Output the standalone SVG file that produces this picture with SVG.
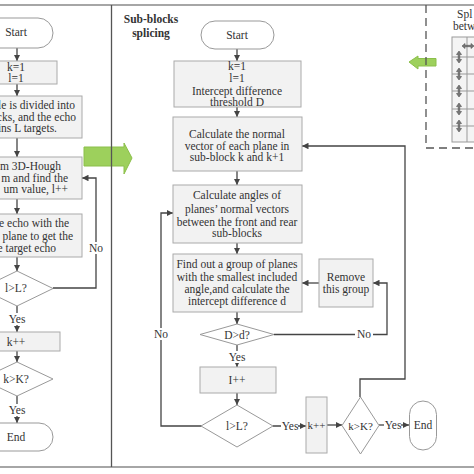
<svg xmlns="http://www.w3.org/2000/svg" width="474" height="474" viewBox="0 0 474 474">
<defs>
<marker id="ah" viewBox="0 0 8 8" refX="8" refY="4" markerWidth="6.5" markerHeight="6.5" markerUnits="userSpaceOnUse" orient="auto">
<path d="M0,0 L8,4 L0,8 Z" fill="#444"/>
</marker>
<style>
text{font-family:"Liberation Serif","Times New Roman",serif;font-size:11.5px;fill:#333;text-anchor:middle}
.e{text-anchor:end}
.b{fill:#f2f2f2;stroke:#aaa;stroke-width:1}
.t{fill:#fff;stroke:#999;stroke-width:1}
.c{fill:none;stroke:#444;stroke-width:1.3}
.ca{fill:none;stroke:#444;stroke-width:1.3;marker-end:url(#ah)}
.lb{fill:#fff}
.frame{stroke:#888;stroke-width:1.6;fill:none}
.g{fill:#9dd05c;stroke:#8bbf4a;stroke-width:1}
.sym{fill:#777;stroke:#555;stroke-width:0.6}
.title{font-weight:bold;font-size:11.5px}
</style>
</defs>
<rect width="474" height="474" fill="#fff"/>

<!-- green arrows -->
<polygon id="bigArrow" class="g" points="84,147 124,147 124,143 132,158 124,174 124,166 84,166"/>
<polygon id="smallArrow" class="g" points="409,62 418,56 418,58.5 436,58.5 436,66 418,66 418,69"/>

<!-- frame -->
<g id="frame">
<line class="frame" x1="0" y1="5" x2="474" y2="5"/>
<line class="frame" x1="0" y1="467" x2="474" y2="467"/>
<line x1="111.5" y1="5" x2="111.5" y2="467" stroke="#555" stroke-width="1.3"/>
<path d="M426,5 V148 H474" fill="none" stroke="#555" stroke-width="1.3" stroke-dasharray="8,5"/>
</g>

<!-- connectors -->
<g id="connectors">
<!-- left column -->
<line class="ca" x1="17" y1="48" x2="17" y2="61"/>
<line class="ca" x1="17" y1="84" x2="17" y2="96"/>
<line class="ca" x1="17" y1="138" x2="17" y2="157"/>
<line class="ca" x1="17" y1="199" x2="17" y2="214"/>
<line class="ca" x1="17" y1="257" x2="17" y2="271"/>
<path class="ca" d="M53,288 H96 V178 H82"/>
<line class="ca" x1="17" y1="306" x2="17" y2="332"/>
<line class="ca" x1="17" y1="351" x2="17" y2="362"/>
<line class="ca" x1="17" y1="396" x2="17" y2="423"/>
<!-- middle -->
<line class="ca" x1="237" y1="49" x2="237" y2="61"/>
<line class="ca" x1="237" y1="107" x2="237" y2="117"/>
<line class="ca" x1="237" y1="171" x2="237" y2="185"/>
<line class="ca" x1="237" y1="243" x2="237" y2="254"/>
<line class="ca" x1="319" y1="283" x2="302" y2="283"/>
<path class="ca" d="M274,334.5 H387 V283 H373"/>
<line class="ca" x1="237" y1="312" x2="237" y2="324"/>
<line class="ca" x1="237" y1="345" x2="237" y2="367"/>
<line class="ca" x1="237" y1="393" x2="237" y2="405"/>
<path class="ca" d="M202,426 H161 V213 H173"/>
<line class="ca" x1="273" y1="426" x2="306" y2="426"/>
<line class="ca" x1="327" y1="425" x2="342" y2="425"/>
<line class="ca" x1="379" y1="425" x2="409" y2="425"/>
<path class="ca" d="M360,397 V379 H405 V146 H302"/>
<!-- labels -->
<rect class="lb" x="87" y="242" width="18" height="12"/><text x="96" y="252">No</text>
<rect class="lb" x="6" y="313" width="22" height="12"/><text x="17" y="323">Yes</text>
<rect class="lb" x="6" y="404" width="22" height="12"/><text x="17" y="414">Yes</text>
<rect class="lb" x="152" y="328" width="18" height="12"/><text x="161" y="338">No</text>
<rect class="lb" x="355" y="328" width="18" height="12"/><text x="364" y="338">No</text>
<rect class="lb" x="226" y="351" width="22" height="12"/><text x="237" y="361">Yes</text>
<rect class="lb" x="281" y="420" width="17" height="12"/><text x="290" y="430">Yes</text>
<rect class="lb" x="384" y="419" width="17" height="12"/><text x="393" y="429">Yes</text>
</g>

<!-- left column nodes -->
<g id="L_start"><rect class="t" x="-40" y="18" width="93" height="30" rx="15"/><text x="16" y="36">Start</text></g>
<g id="L_init"><rect class="b" x="-25" y="61" width="82" height="23"/><text x="16" y="71">k=1</text><text x="16" y="82">l=1</text></g>
<g id="L_divide"><rect class="b" x="-30" y="96" width="112" height="42"/>
<text class="e" x="75" y="109">le is divided into</text>
<text class="e" x="76" y="121">cks, and the echo</text>
<text class="e" x="57" y="132">ins L targets.</text></g>
<g id="L_hough"><rect class="b" x="-30" y="157" width="112" height="42"/>
<text class="e" x="61" y="170">m 3D-Hough</text>
<text class="e" x="68" y="182">m and find the</text>
<text class="e" x="68" y="193">um value, l++</text></g>
<g id="L_echo"><rect class="b" x="-30" y="214" width="112" height="43"/>
<text class="e" x="69" y="227">e echo with the</text>
<text class="e" x="73" y="240">plane to get the</text>
<text class="e" x="56" y="252">e target echo</text></g>
<g id="L_d1"><polygon class="t" points="17,271 53,288.5 17,306 -19,288.5"/><text x="16" y="292">l&gt;L?</text></g>
<g id="L_kpp"><rect class="b" x="-25" y="332" width="85" height="19"/><text x="16" y="346">k++</text></g>
<g id="L_d2"><polygon class="t" points="17,362 53,379 17,396 -19,379"/><text x="16" y="383">k&gt;K?</text></g>
<g id="L_end"><rect class="t" x="-40" y="423" width="93" height="28" rx="14"/><text x="16" y="441">End</text></g>

<!-- middle nodes -->
<g id="M_title"><text class="title" x="151" y="23">Sub-blocks</text><text class="title" x="151" y="37">splicing</text></g>
<g id="M_start"><rect class="t" x="201" y="21" width="73" height="28" rx="14"/><text x="237" y="39">Start</text></g>
<g id="M_init"><rect class="b" x="174" y="61" width="127" height="46"/>
<text x="237" y="70">k=1</text><text x="237" y="82">l=1</text>
<text x="237" y="95">Intercept difference</text><text x="237" y="106">threshold D</text></g>
<g id="M_normal"><rect class="b" x="173" y="117" width="129" height="54"/>
<text x="237" y="138">Calculate the normal</text>
<text x="237" y="150">vector of each plane in</text>
<text x="237" y="161">sub-block k and k+1</text></g>
<g id="M_angles"><rect class="b" x="173" y="185" width="129" height="58"/>
<text x="237" y="199">Calculate angles of</text>
<text x="237" y="213">planes’ normal vectors</text>
<text x="237" y="226">between the front and rear</text>
<text x="237" y="237">sub-blocks</text></g>
<g id="M_find"><rect class="b" x="173" y="254" width="129" height="58"/>
<text x="237" y="268">Find out a group of planes</text>
<text x="237" y="281">with the smallest included</text>
<text x="237" y="293">angle,and calculate the</text>
<text x="237" y="305">intercept difference d</text></g>
<g id="M_remove"><rect class="b" x="319" y="259" width="54" height="48"/>
<text x="346" y="281">Remove</text><text x="346" y="293">this group</text></g>
<g id="M_dd"><polygon class="t" points="237,324 274,334.5 237,345 200,334.5"/><text x="237" y="338.5">D&gt;d?</text></g>
<g id="M_lpp"><rect class="b" x="200" y="367" width="76" height="26"/><text x="237" y="384">I++</text></g>
<g id="M_dl"><polygon class="t" points="237,405 273,426 237,447 201,426"/><text x="237" y="430">l&gt;L?</text></g>
<g id="M_kpp"><rect class="b" x="306" y="397" width="21" height="56"/><text x="316.5" y="429" style="font-size:11px">k++</text></g>
<g id="M_dk"><polygon class="t" points="360.5,397 379,425.5 360.5,454 342,425.5"/><text x="360.5" y="429.5" style="font-size:11px">k&gt;K?</text></g>
<g id="M_end"><rect class="t" x="409.5" y="401" width="27" height="49" rx="13.5"/><text x="423" y="429">End</text></g>

<!-- right panel -->
<g id="R_panel">
<text x="457" y="18" style="text-anchor:start">Spl</text>
<text x="453" y="30" style="text-anchor:start">betw</text>
<rect x="452" y="37" width="40" height="105" fill="#f4f4f4" stroke="#999" stroke-width="1"/>
<line x1="467" y1="37" x2="467" y2="142" stroke="#999"/>
<g stroke="#999" stroke-width="1">
<line x1="452" y1="57" x2="474" y2="57"/>
<line x1="452" y1="74" x2="474" y2="74"/>
<line x1="452" y1="91" x2="474" y2="91"/>
<line x1="452" y1="109" x2="474" y2="109"/>
<line x1="452" y1="126" x2="474" y2="126"/>
</g>
<path class="sym" d="M462,46 L465,43.5 L465,45.3 L471,45.3 L471,43.5 L474,46 L471,48.5 L471,46.7 L465,46.7 L465,48.5 Z"/>
<g class="sym">
<path d="M459,51 L461.5,54.5 L459.8,54.5 L459.8,59.5 L461.5,59.5 L459,63 L456.5,59.5 L458.2,59.5 L458.2,54.5 L456.5,54.5 Z"/>
<path d="M459,68 L461.5,71.5 L459.8,71.5 L459.8,76.5 L461.5,76.5 L459,80 L456.5,76.5 L458.2,76.5 L458.2,71.5 L456.5,71.5 Z"/>
<path d="M459,85 L461.5,88.5 L459.8,88.5 L459.8,93.5 L461.5,93.5 L459,97 L456.5,93.5 L458.2,93.5 L458.2,88.5 L456.5,88.5 Z"/>
<path d="M459,103 L461.5,106.5 L459.8,106.5 L459.8,111.5 L461.5,111.5 L459,115 L456.5,111.5 L458.2,111.5 L458.2,106.5 L456.5,106.5 Z"/>
<path d="M459,120 L461.5,123.5 L459.8,123.5 L459.8,128.5 L461.5,128.5 L459,132 L456.5,128.5 L458.2,128.5 L458.2,123.5 L456.5,123.5 Z"/>
</g>
</g>
</svg>
